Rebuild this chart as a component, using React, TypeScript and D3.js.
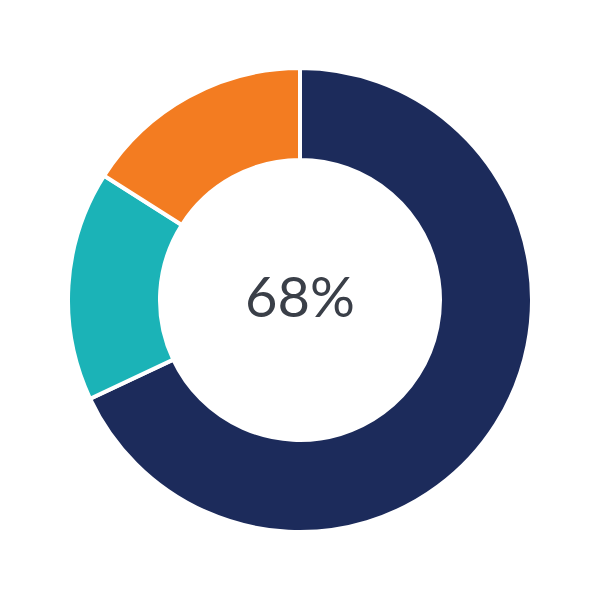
import React, { useEffect, useRef } from 'react';
import * as d3 from 'd3';

const labels = ['Navy', 'Teal', 'Orange'];
const values = [68, 16, 16];
const colors = ['#1c2b5b', '#1bb3b7', '#f37c21'];
const centerLabel = '68%';

const App: React.FC = () => {
  const svgRef = useRef<SVGSVGElement>(null);

  useEffect(() => {
    if (!svgRef.current) return;
    const svg = d3.select(svgRef.current);
    svg.selectAll('*').remove();

    const cx = 300;
    const cy = 300;
    const outer = 232;
    const inner = 140;

    const pie = d3.pie<number>().sort(null).value(d => d);
    const arc = d3.arc<d3.PieArcDatum<number>>().innerRadius(inner).outerRadius(outer);

    const g = svg.append('g').attr('transform', `translate(${cx},${cy})`);

    g.selectAll('path')
      .data(pie(values))
      .enter()
      .append('path')
      .attr('d', arc)
      .attr('fill', (_, i) => colors[i])
      .attr('stroke', '#ffffff')
      .attr('stroke-width', 4)
      .append('title')
      .text((d, i) => `${labels[i]}: ${d.data}%`);

    g.append('text')
      .attr('x', 0)
      .attr('y', 17)
      .attr('text-anchor', 'middle')
      .attr('font-family', 'Lato, sans-serif')
      .attr('font-size', 56)
      .attr('fill', '#3a3f48')
      .text(centerLabel);
  }, []);

  return (
    <svg
      ref={svgRef}
      width={600}
      height={600}
      style={{ position: 'absolute', left: 0, top: 0, background: '#ffffff' }}
    />
  );
};

export default App;
